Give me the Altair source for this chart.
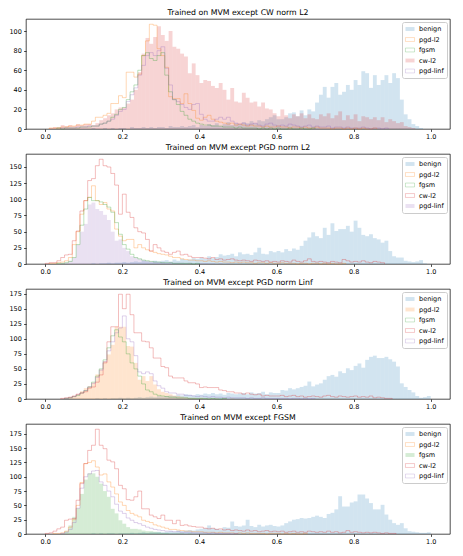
import altair as alt
import pandas as pd

SERIES = ["benign", "pgd-l2", "fgsm", "cw-l2", "pgd-linf"]
RGB = [(31, 119, 180), (255, 127, 14), (44, 160, 44), (214, 39, 40), (148, 103, 189)]
TITLES = [
    "Trained on MVM except CW norm L2",
    "Trained on MVM except PGD norm L2",
    "Trained on MVM except PGD norm Linf",
    "Trained on MVM except FGSM",
]
FILLED = ["cw-l2", "pgd-linf", "pgd-l2", "fgsm"]
X_TICKS = [0.0, 0.2, 0.4, 0.6, 0.8, 1.0]
Y_TICKS = [
    [0, 20, 40, 60, 80, 100],
    [0, 25, 50, 75, 100, 125, 150],
    [0, 25, 50, 75, 100, 125, 150, 175],
    [0, 25, 50, 75, 100, 125, 150, 175],
]
BIN_START = 0.0
BIN_W = 0.01

# ---- panel 1: except CW norm L2 (counts per 0.01 bin starting at 0.00)
p1_benign = [0,0,0,0,0,0,0,0,0,0,
             0,0,1,0,0,1,0,1,0,1,
             1,0,2,1,1,2,1,2,1,2,
             2,1,3,2,2,3,2,3,4,2,
             4,3,5,4,6,3,5,7,4,6,
             5,7,6,8,6,9,8,10,12,14,
             10,10,12,16,17,13,19,14,20,18,
             27,35,43,32,43,47,35,38,45,40,
             50,45,59,57,42,55,45,50,55,47,
             57,52,30,15,10,5,3,1,0,0]
p1_pgd_l2 = [0,1,1,1,2,2,3,3,4,4,
             5,5,8,12,12,14,16,26,26,34,
             32,58,58,53,56,75,90,107,106,82,
             75,63,33,31,31,26,36,26,19,11,
             9,12,14,10,8,7,6,5,6,4,
             5,4,3,4,3,3,2,3,2,2,
             3,2,2,1,2,2,1,2,1,1,
             2,1,1,1,0,1,1,0,1,0,
             1,0,1,0,0,1,0,0,0,0]
p1_fgsm = [0,0,0,1,0,1,1,1,1,2,
           2,2,3,3,5,6,8,12,15,20,
           22,30,38,45,60,75,78,72,70,75,
           78,55,38,30,25,18,14,10,8,6,
           5,4,4,3,3,3,2,2,2,1,
           2,1,1,1,1,0,1,0,1,0,
           1,0,0,1,0,0,1,0,0,1]
p1_cw_l2 = [0,1,2,2,4,3,4,3,5,4,
            5,5,4,6,9,11,14,16,20,22,
            22,26,30,40,58,77,93,87,94,105,
            96,90,100,84,82,77,74,57,67,55,
            47,50,49,44,42,47,40,30,42,28,
            27,37,32,27,28,23,27,21,20,16,
            13,20,14,11,15,13,16,11,15,11,
            10,15,13,16,11,14,18,9,14,10,
            15,8,13,12,10,12,9,12,7,10,
            8,6,7,3,2,1,0,0,0,0]
p1_pgd_linf = [0,0,0,0,1,1,1,1,2,2,
               2,3,3,3,5,6,8,10,14,18,
               20,28,35,42,55,65,75,78,75,80,
               84,62,45,30,28,25,22,20,25,26,
               15,10,8,8,10,12,10,12,8,6,
               5,6,4,5,6,4,3,5,6,4,
               3,4,3,5,4,3,2,3,4,2,
               3,2,2,3,1,2,2,1,2,1,
               1,1,2,1,0,1,1,0,1,0]

# ---- panel 2: except PGD norm L2
p2_benign = [0,0,0,0,0,0,0,0,0,0,
             0,0,1,0,1,1,2,1,2,2,
             3,2,3,4,3,5,4,3,5,4,
             5,6,4,7,5,8,6,7,9,8,
             10,8,12,9,11,15,13,14,16,12,
             18,15,16,14,18,25,16,15,20,18,
             20,18,23,20,24,22,28,36,41,49,
             43,40,56,45,63,51,54,54,59,50,
             67,56,45,43,46,40,38,33,36,20,
             12,10,10,5,4,3,4,6,1,0]
p2_pgd_l2 = [0,1,1,2,3,5,10,30,50,77,
             98,103,121,98,92,95,85,82,54,43,
             36,38,38,25,30,25,22,20,18,16,
             15,14,12,10,10,8,7,6,6,5,
             5,4,5,4,3,4,3,3,2,3,
             2,3,2,2,1,2,2,1,2,1,
             1,2,1,1,1,0,1,1,0,1,
             1,0,1,0,1,0,0,1,0,0]
p2_fgsm = [0,0,0,1,1,2,4,10,30,60,
           85,103,98,98,96,92,88,80,64,46,
           30,23,15,10,8,6,5,4,3,3,
           2,2,2,1,1,1,1,1,0,1]
p2_cw_l2 = [1,2,2,5,10,14,15,36,51,82,
            98,129,132,152,162,152,150,140,122,77,
            108,80,72,56,50,48,38,20,30,25,
            20,18,15,18,20,14,15,12,10,10,
            10,9,8,10,7,8,6,7,8,6,
            5,6,5,4,6,5,4,5,3,4,
            3,5,4,3,6,4,3,5,8,4,
            3,4,3,2,4,3,2,7,5,3,
            4,3,5,3,2,4,3,2,0,0]
p2_pgd_linf = [0,0,0,0,1,2,5,10,30,50,
               62,92,95,85,82,76,68,50,36,38,
               25,20,12,10,8,6,5,4,4,3,
               3,2,3,2,2,2,1,2,1,1,
               1,1,1,1,0,1,0,1,0,0]

# ---- panel 3: except PGD norm Linf
p3_benign = [0,0,0,0,0,0,0,0,0,0,
             0,0,0,1,0,1,0,1,1,2,
             1,2,1,2,3,2,3,4,3,5,
             4,5,6,5,7,6,8,7,6,8,
             7,9,8,10,8,9,7,10,9,8,
             9,10,8,11,9,10,12,8,11,10,
             10,15,14,18,16,18,20,22,29,21,
             24,26,32,38,40,37,46,43,51,48,
             55,59,52,65,70,72,68,68,70,66,
             62,54,26,20,15,11,5,2,3,5]
p3_pgd_l2 = [0,0,0,0,0,1,3,5,8,13,
             18,21,27,41,49,63,74,90,120,120,
             120,88,87,60,32,38,30,38,24,16,
             12,10,8,6,5,4,3,2,2,1,
             2,1,1,1,1,0,1,0,1,0]
p3_fgsm = [0,0,0,0,0,1,2,4,6,10,
           14,20,28,38,50,65,85,105,115,103,
           95,75,60,50,38,25,15,12,8,6,
           5,4,3,3,2,2,2,1,1,1,
           1,1,0,1,0,0,1]
p3_cw_l2 = [0,0,0,0,1,2,3,5,8,10,
            12,18,20,28,40,60,95,120,120,174,
            150,174,140,110,110,96,95,85,68,68,
            54,52,38,35,35,35,30,27,27,25,
            19,20,19,19,19,15,14,12,12,10,
            10,8,10,8,7,8,5,6,5,5,
            5,6,4,5,6,4,5,3,4,5,
            4,3,5,6,4,3,5,4,3,4,
            5,3,4,3,5,2,3,2,1,1]
p3_pgd_linf = [0,0,0,0,0,1,2,4,7,10,
               14,20,26,36,48,62,80,95,110,118,
               138,100,95,72,45,42,45,42,30,22,
               18,12,10,10,8,8,6,6,5,4,
               5,4,3,4,3,3,2,3,2,2,
               2,2,1,2,1,1,2,1,1,1,
               1,1,1,0,1,1,0,1,0,1]

# ---- panel 4: except FGSM
p4_benign = [0,0,0,0,0,0,0,0,0,0,
             0,0,1,0,1,0,1,1,0,1,
             1,1,2,1,2,3,2,3,3,4,
             3,4,5,4,6,5,6,7,6,8,
             9,10,15,10,9,8,12,11,22,14,
             13,15,25,14,12,16,13,15,16,14,
             13,15,19,22,25,26,28,27,28,30,
             32,30,28,35,37,43,66,48,48,55,
             57,69,69,62,54,43,43,51,34,25,
             19,16,19,10,5,4,3,2,2,3]
p4_pgd_l2 = [0,0,1,1,2,5,12,25,50,90,
             123,125,128,117,103,105,91,82,70,56,
             50,41,36,33,30,24,22,20,16,14,
             12,10,8,8,7,6,5,5,4,4,
             4,3,3,3,2,3,2,2,2,1,
             2,1,2,1,1,1,1,0,1,1,
             1,0,1,0,1,0,0,1,0,0]
p4_fgsm = [0,0,0,0,1,5,15,30,45,70,
           95,106,106,100,88,75,65,44,36,24,
           18,12,9,9,8,6,5,5,4,3,
           2,2,1,1,1,1,0,1,0,0]
p4_cw_l2 = [1,2,5,9,12,24,26,27,59,88,
            123,146,155,183,155,149,129,126,114,85,
            79,60,59,65,75,44,44,33,30,27,
            33,24,24,18,24,15,16,14,13,12,
            12,10,9,10,8,9,7,8,6,7,
            6,5,7,5,6,4,5,6,4,5,
            4,5,3,4,5,3,4,3,5,4,
            3,4,3,5,3,4,2,3,6,3,
            4,3,2,3,2,3,2,1,2,1,
            1]
p4_pgd_linf = [0,0,0,0,1,3,8,20,45,80,
               100,105,110,111,91,85,75,65,52,40,
               36,28,24,20,18,15,12,10,8,7,
               6,5,5,4,4,3,3,3,2,2,
               2,2,1,2,1,1,1,1,0,1]

PANEL_COUNTS = [
    {"benign": p1_benign, "pgd-l2": p1_pgd_l2, "fgsm": p1_fgsm, "cw-l2": p1_cw_l2, "pgd-linf": p1_pgd_linf},
    {"benign": p2_benign, "pgd-l2": p2_pgd_l2, "fgsm": p2_fgsm, "cw-l2": p2_cw_l2, "pgd-linf": p2_pgd_linf},
    {"benign": p3_benign, "pgd-l2": p3_pgd_l2, "fgsm": p3_fgsm, "cw-l2": p3_cw_l2, "pgd-linf": p3_pgd_linf},
    {"benign": p4_benign, "pgd-l2": p4_pgd_l2, "fgsm": p4_fgsm, "cw-l2": p4_cw_l2, "pgd-linf": p4_pgd_linf},
]

FILL_ALPHA = 0.2
LINE_ALPHA = 0.3
FONT = "DejaVu Sans"
RECT = "M-1.4,-0.6H1.4V0.6H-1.4Z"


def rgba(rgb, a):
    return f"rgba({rgb[0]},{rgb[1]},{rgb[2]},{a})"


def edge(i):
    return round(BIN_START + i * BIN_W, 4)


def make_legend():
    return alt.Legend(
        title=None, orient="top-right", offset=3,
        symbolType=RECT, symbolSize=42, symbolStrokeWidth=0.8,
        symbolOffset=1, labelOffset=5,
        labelFont=FONT, labelFontSize=6.5, labelColor="black",
        rowPadding=2.5, padding=3, cornerRadius=2,
        strokeColor="#cccccc", fillColor="rgba(255,255,255,0.8)",
    )


n_bins = 100
x_min = edge(0)
x_max = edge(n_bins)
x_margin = 0.05 * (x_max - x_min)


def make_panel(k):
    counts = PANEL_COUNTS[k]
    filled = {"benign", FILLED[k]}
    bar_rows, line_rows = [], []
    ymax = 0
    for s in SERIES:
        c = list(counts[s]) + [0] * (n_bins - len(counts[s]))
        ymax = max(ymax, max(c))
        if s in filled:
            for i, v in enumerate(c):
                if v > 0:
                    bar_rows.append({"series": s, "x0": edge(i), "x1": edge(i + 1), "count": v})
        else:
            nz = [i for i, v in enumerate(c) if v > 0]
            lo, hi = nz[0], nz[-1]
            idx = 0
            line_rows.append({"series": s, "idx": idx, "x": edge(lo), "count": 0})
            for i in range(lo, hi + 1):
                idx += 1
                line_rows.append({"series": s, "idx": idx, "x": edge(i), "count": c[i]})
            idx += 1
            line_rows.append({"series": s, "idx": idx, "x": edge(hi + 1), "count": 0})

    xs = alt.Scale(domain=[x_min - x_margin, x_max + x_margin], nice=False, zero=False)
    ys = alt.Scale(domain=[0, ymax * 1.05], nice=False)
    xax = alt.Axis(values=X_TICKS, format=".1f", title=None)
    yax = alt.Axis(values=Y_TICKS[k], format="d", title=None)
    fill_scale = alt.Scale(domain=SERIES, range=[
        rgba(RGB[i], FILL_ALPHA) if s in filled else "transparent" for i, s in enumerate(SERIES)])
    stroke_scale = alt.Scale(domain=SERIES, range=[
        "transparent" if s in filled else rgba(RGB[i], LINE_ALPHA) for i, s in enumerate(SERIES)])

    bars = alt.Chart(pd.DataFrame(bar_rows)).mark_rect(opacity=1, strokeWidth=0).encode(
        x=alt.X("x0:Q", scale=xs, axis=xax),
        x2="x1:Q",
        y=alt.Y("count:Q", scale=ys, axis=yax),
        y2=alt.datum(0),
        fill=alt.Fill("series:N", scale=fill_scale, legend=make_legend()),
    )
    lines = alt.Chart(pd.DataFrame(line_rows)).mark_line(interpolate="step-after", strokeWidth=1).encode(
        x=alt.X("x:Q", scale=xs, axis=xax),
        y=alt.Y("count:Q", scale=ys, axis=yax),
        stroke=alt.Stroke("series:N", scale=stroke_scale, legend=make_legend()),
        order=alt.Order("idx:Q"),
    )
    return alt.layer(bars, lines).properties(
        width=424, height=110, title=alt.TitleParams(TITLES[k]))


chart = alt.vconcat(*[make_panel(k) for k in range(4)], spacing=2).resolve_scale(
    y="independent", fill="independent", stroke="independent"
).resolve_legend(fill="independent", stroke="independent").properties(
    padding=0
).configure_view(
    stroke="black", strokeWidth=0.7
).configure_axis(
    domain=False, grid=False, ticks=True, tickColor="black", tickSize=2.4, tickWidth=0.7,
    labelFont=FONT, labelFontSize=6.5, labelColor="black", labelPadding=2.2,
).configure_title(
    font=FONT, fontSize=7.8, fontWeight="normal", color="black", offset=2, anchor="middle",
)

chart.save("out.html", embed_options={"renderer": "svg", "actions": False})
